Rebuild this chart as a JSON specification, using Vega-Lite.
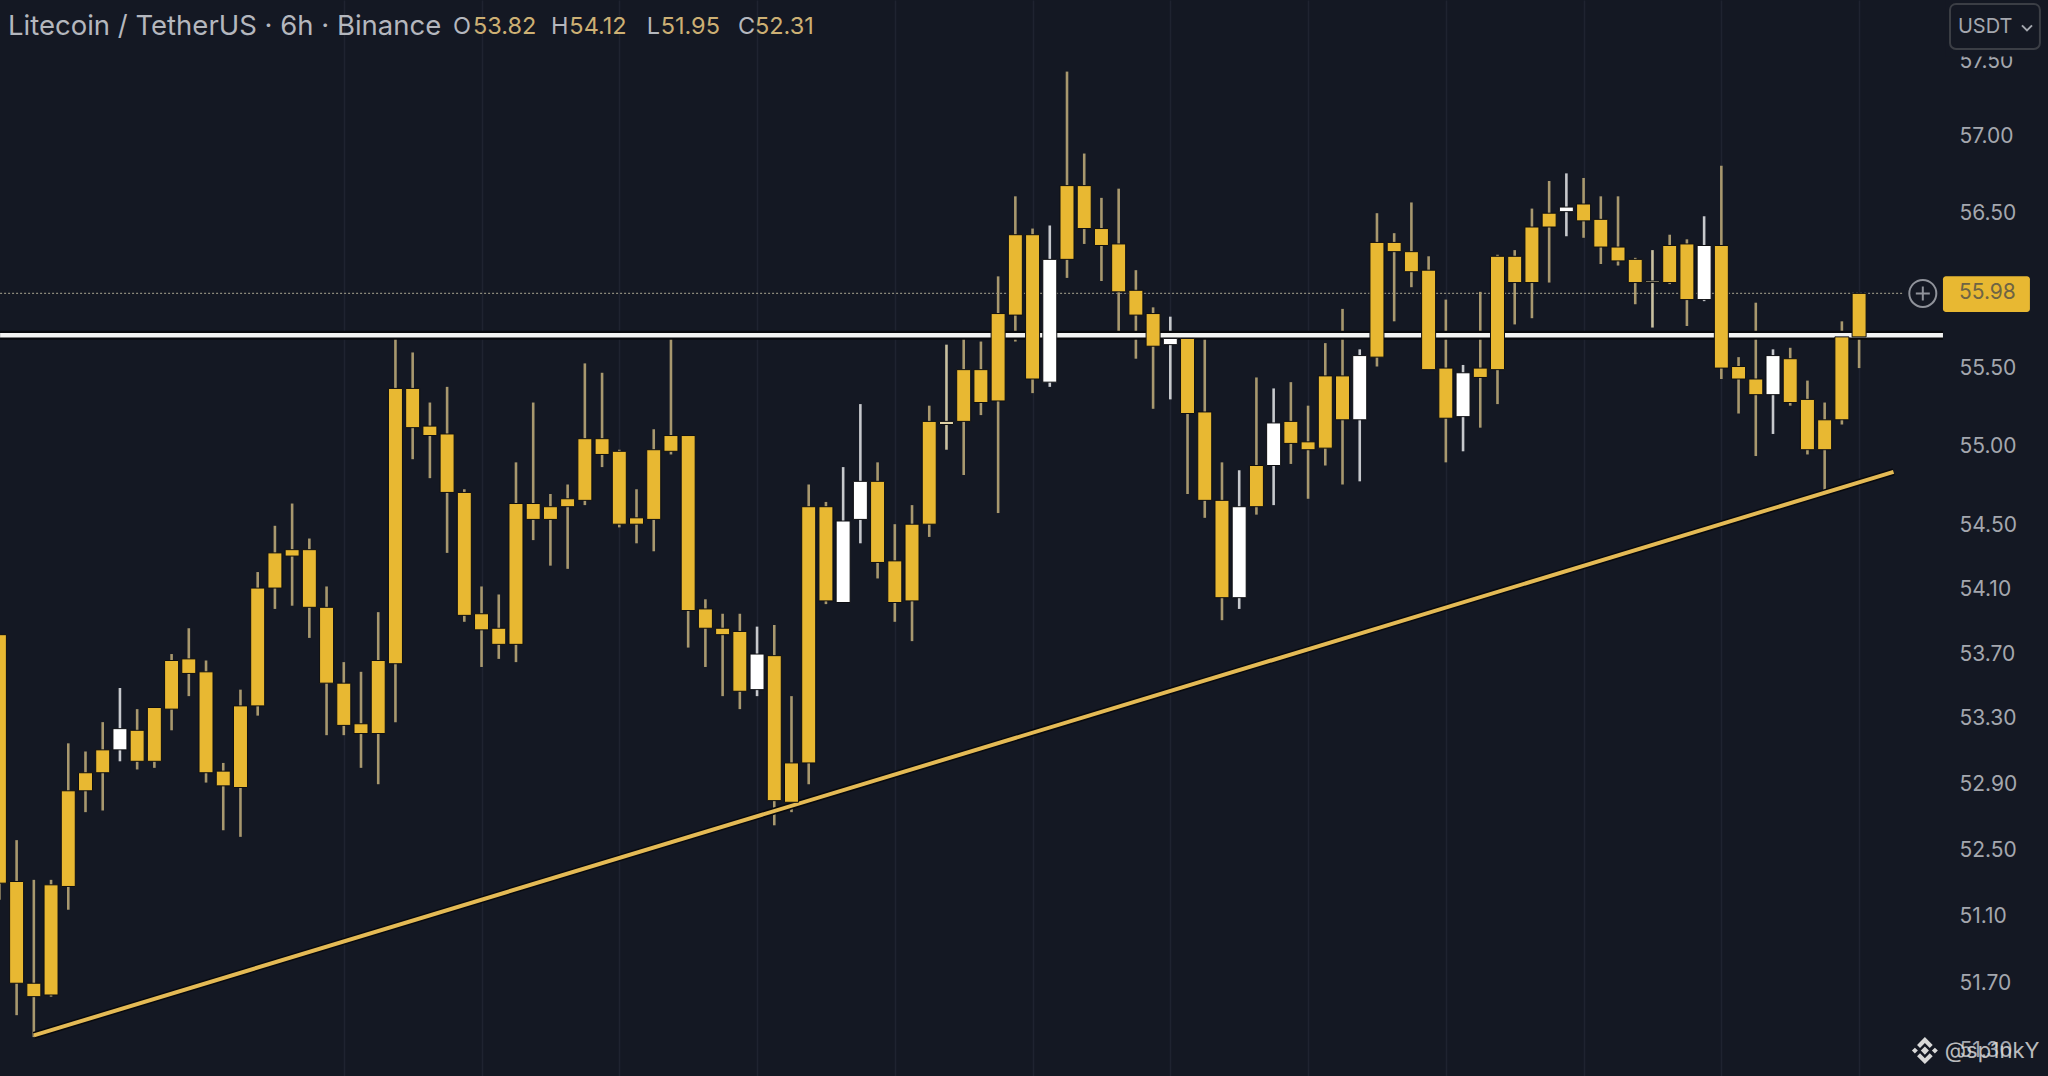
{"$schema":"https://vega.github.io/schema/vega-lite/v6.json","width":2048,"height":1076,"padding":0,"autosize":"none","background":"#141823","config":{"view":{"stroke":null},"font":"Inter","scale":{"continuousPadding":0}},
"resolve":{"axis":{"x":"independent","y":"independent"}},
"datasets":{
"candles":[
{"i":0,"open":52.30,"high":53.82,"low":52.2,"close":53.82,"tone":"up"},
{"i":1,"open":51.70,"high":52.56,"low":51.51,"close":52.31,"tone":"up"},
{"i":2,"open":51.62,"high":52.32,"low":51.38,"close":51.70,"tone":"up"},
{"i":3,"open":51.63,"high":52.32,"low":51.62,"close":52.29,"tone":"up"},
{"i":4,"open":52.28,"high":53.15,"low":52.14,"close":52.86,"tone":"up"},
{"i":5,"open":52.86,"high":53.10,"low":52.73,"close":52.97,"tone":"up"},
{"i":6,"open":52.97,"high":53.28,"low":52.74,"close":53.11,"tone":"up"},
{"i":7,"open":53.24,"high":53.49,"low":53.04,"close":53.11,"tone":"down"},
{"i":8,"open":53.04,"high":53.36,"low":52.99,"close":53.23,"tone":"up"},
{"i":9,"open":53.04,"high":53.37,"low":53.00,"close":53.37,"tone":"up"},
{"i":10,"open":53.36,"high":53.70,"low":53.23,"close":53.66,"tone":"up"},
{"i":11,"open":53.58,"high":53.86,"low":53.44,"close":53.67,"tone":"up"},
{"i":12,"open":52.97,"high":53.66,"low":52.91,"close":53.59,"tone":"up"},
{"i":13,"open":52.89,"high":53.03,"low":52.62,"close":52.98,"tone":"up"},
{"i":14,"open":52.88,"high":53.48,"low":52.58,"close":53.38,"tone":"up"},
{"i":15,"open":53.38,"high":54.21,"low":53.32,"close":54.11,"tone":"up"},
{"i":16,"open":54.11,"high":54.50,"low":53.98,"close":54.33,"tone":"up"},
{"i":17,"open":54.31,"high":54.64,"low":54.00,"close":54.35,"tone":"up"},
{"i":18,"open":53.99,"high":54.42,"low":53.80,"close":54.35,"tone":"up"},
{"i":19,"open":53.52,"high":54.12,"low":53.20,"close":53.99,"tone":"up"},
{"i":20,"open":53.26,"high":53.65,"low":53.20,"close":53.52,"tone":"up"},
{"i":21,"open":53.21,"high":53.59,"low":53.00,"close":53.27,"tone":"up"},
{"i":22,"open":53.21,"high":53.96,"low":52.90,"close":53.66,"tone":"up"},
{"i":23,"open":53.64,"high":55.72,"low":53.28,"close":55.37,"tone":"up"},
{"i":24,"open":55.12,"high":55.60,"low":54.92,"close":55.37,"tone":"up"},
{"i":25,"open":55.07,"high":55.28,"low":54.80,"close":55.13,"tone":"up"},
{"i":26,"open":54.71,"high":55.38,"low":54.33,"close":55.08,"tone":"up"},
{"i":27,"open":53.94,"high":54.73,"low":53.90,"close":54.71,"tone":"up"},
{"i":28,"open":53.85,"high":54.12,"low":53.62,"close":53.95,"tone":"up"},
{"i":29,"open":53.76,"high":54.07,"low":53.67,"close":53.86,"tone":"up"},
{"i":30,"open":53.76,"high":54.90,"low":53.65,"close":54.64,"tone":"up"},
{"i":31,"open":54.54,"high":55.28,"low":54.41,"close":54.64,"tone":"up"},
{"i":32,"open":54.54,"high":54.70,"low":54.25,"close":54.62,"tone":"up"},
{"i":33,"open":54.62,"high":54.76,"low":54.23,"close":54.67,"tone":"up"},
{"i":34,"open":54.66,"high":55.53,"low":54.63,"close":55.05,"tone":"up"},
{"i":35,"open":54.95,"high":55.47,"low":54.87,"close":55.05,"tone":"up"},
{"i":36,"open":54.51,"high":54.98,"low":54.49,"close":54.97,"tone":"up"},
{"i":37,"open":54.51,"high":54.73,"low":54.39,"close":54.55,"tone":"up"},
{"i":38,"open":54.54,"high":55.11,"low":54.34,"close":54.98,"tone":"up"},
{"i":39,"open":54.97,"high":55.71,"low":54.95,"close":55.07,"tone":"up"},
{"i":40,"open":53.97,"high":55.07,"low":53.74,"close":55.07,"tone":"up"},
{"i":41,"open":53.86,"high":54.04,"low":53.62,"close":53.98,"tone":"up"},
{"i":42,"open":53.82,"high":53.95,"low":53.44,"close":53.86,"tone":"up"},
{"i":43,"open":53.47,"high":53.95,"low":53.36,"close":53.84,"tone":"up"},
{"i":44,"open":53.70,"high":53.87,"low":53.44,"close":53.48,"tone":"down"},
{"i":45,"open":52.80,"high":53.88,"low":52.65,"close":53.69,"tone":"up"},
{"i":46,"open":52.79,"high":53.44,"low":52.73,"close":53.03,"tone":"up"},
{"i":47,"open":53.03,"high":54.76,"low":52.90,"close":54.62,"tone":"up"},
{"i":48,"open":54.03,"high":54.65,"low":54.01,"close":54.62,"tone":"up"},
{"i":49,"open":54.53,"high":54.87,"low":54.02,"close":54.02,"tone":"down"},
{"i":50,"open":54.78,"high":55.27,"low":54.39,"close":54.54,"tone":"down"},
{"i":51,"open":54.27,"high":54.90,"low":54.17,"close":54.78,"tone":"up"},
{"i":52,"open":54.02,"high":54.51,"low":53.90,"close":54.28,"tone":"up"},
{"i":53,"open":54.03,"high":54.63,"low":53.78,"close":54.51,"tone":"up"},
{"i":54,"open":54.51,"high":55.26,"low":54.43,"close":55.16,"tone":"up"},
{"i":55,"open":55.14,"high":55.65,"low":54.98,"close":55.16,"tone":"doji"},
{"i":56,"open":55.16,"high":55.71,"low":54.82,"close":55.49,"tone":"up"},
{"i":57,"open":55.28,"high":55.67,"low":55.20,"close":55.49,"tone":"up"},
{"i":58,"open":55.29,"high":56.09,"low":54.58,"close":55.85,"tone":"up"},
{"i":59,"open":55.84,"high":56.61,"low":55.67,"close":56.36,"tone":"up"},
{"i":60,"open":55.43,"high":56.40,"low":55.34,"close":56.36,"tone":"up"},
{"i":61,"open":56.20,"high":56.42,"low":55.38,"close":55.41,"tone":"down"},
{"i":62,"open":56.20,"high":57.43,"low":56.08,"close":56.68,"tone":"up"},
{"i":63,"open":56.40,"high":56.89,"low":56.30,"close":56.68,"tone":"up"},
{"i":64,"open":56.29,"high":56.60,"low":56.06,"close":56.40,"tone":"up"},
{"i":65,"open":55.99,"high":56.66,"low":55.71,"close":56.30,"tone":"up"},
{"i":66,"open":55.84,"high":56.13,"low":55.56,"close":56.00,"tone":"up"},
{"i":67,"open":55.64,"high":55.89,"low":55.24,"close":55.85,"tone":"up"},
{"i":68,"open":55.69,"high":55.83,"low":55.30,"close":55.65,"tone":"down"},
{"i":69,"open":55.21,"high":55.69,"low":54.70,"close":55.69,"tone":"up"},
{"i":70,"open":54.66,"high":55.69,"low":54.55,"close":55.22,"tone":"up"},
{"i":71,"open":54.05,"high":54.90,"low":53.91,"close":54.66,"tone":"up"},
{"i":72,"open":54.62,"high":54.85,"low":53.98,"close":54.05,"tone":"down"},
{"i":73,"open":54.62,"high":55.44,"low":54.57,"close":54.88,"tone":"up"},
{"i":74,"open":55.15,"high":55.37,"low":54.63,"close":54.88,"tone":"down"},
{"i":75,"open":55.02,"high":55.41,"low":54.89,"close":55.16,"tone":"up"},
{"i":76,"open":54.98,"high":55.26,"low":54.67,"close":55.03,"tone":"up"},
{"i":77,"open":54.99,"high":55.66,"low":54.88,"close":55.45,"tone":"up"},
{"i":78,"open":55.17,"high":55.88,"low":54.76,"close":55.45,"tone":"up"},
{"i":79,"open":55.58,"high":55.62,"low":54.78,"close":55.17,"tone":"down"},
{"i":80,"open":55.57,"high":56.50,"low":55.51,"close":56.31,"tone":"up"},
{"i":81,"open":56.25,"high":56.37,"low":55.80,"close":56.31,"tone":"up"},
{"i":82,"open":56.12,"high":56.57,"low":56.02,"close":56.25,"tone":"up"},
{"i":83,"open":55.49,"high":56.22,"low":55.49,"close":56.13,"tone":"up"},
{"i":84,"open":55.18,"high":55.94,"low":54.90,"close":55.50,"tone":"up"},
{"i":85,"open":55.47,"high":55.52,"low":54.97,"close":55.19,"tone":"down"},
{"i":86,"open":55.44,"high":55.99,"low":55.12,"close":55.50,"tone":"up"},
{"i":87,"open":55.49,"high":56.23,"low":55.27,"close":56.22,"tone":"up"},
{"i":88,"open":56.05,"high":56.26,"low":55.78,"close":56.22,"tone":"up"},
{"i":89,"open":56.05,"high":56.53,"low":55.82,"close":56.41,"tone":"up"},
{"i":90,"open":56.41,"high":56.71,"low":56.05,"close":56.50,"tone":"up"},
{"i":91,"open":56.54,"high":56.76,"low":56.35,"close":56.51,"tone":"down"},
{"i":92,"open":56.45,"high":56.73,"low":56.34,"close":56.56,"tone":"up"},
{"i":93,"open":56.28,"high":56.61,"low":56.17,"close":56.46,"tone":"up"},
{"i":94,"open":56.19,"high":56.61,"low":56.16,"close":56.28,"tone":"up"},
{"i":95,"open":56.05,"high":56.21,"low":55.91,"close":56.20,"tone":"up"},
{"i":96,"open":56.05,"high":56.26,"low":55.76,"close":56.06,"tone":"doji"},
{"i":97,"open":56.05,"high":56.36,"low":56.04,"close":56.29,"tone":"up"},
{"i":98,"open":55.94,"high":56.33,"low":55.77,"close":56.30,"tone":"up"},
{"i":99,"open":56.29,"high":56.48,"low":55.93,"close":55.94,"tone":"down"},
{"i":100,"open":55.50,"high":56.81,"low":55.43,"close":56.29,"tone":"up"},
{"i":101,"open":55.43,"high":55.57,"low":55.21,"close":55.51,"tone":"up"},
{"i":102,"open":55.33,"high":55.92,"low":54.94,"close":55.43,"tone":"up"},
{"i":103,"open":55.58,"high":55.62,"low":55.08,"close":55.33,"tone":"down"},
{"i":104,"open":55.28,"high":55.63,"low":55.26,"close":55.56,"tone":"up"},
{"i":105,"open":54.98,"high":55.42,"low":54.95,"close":55.30,"tone":"up"},
{"i":106,"open":54.98,"high":55.28,"low":54.71,"close":55.17,"tone":"up"},
{"i":107,"open":55.17,"high":55.80,"low":55.14,"close":55.70,"tone":"up"},
{"i":108,"open":55.70,"high":55.98,"low":55.50,"close":55.98,"tone":"up"}
],
"levels":[
{"name":"last","i":0.04,"price":55.98},{"name":"last","i":110.5,"price":55.98},
{"name":"resistance","i":0.04,"price":55.71},{"name":"resistance","i":112.87,"price":55.71},
{"name":"trend","i":2,"price":51.39},{"name":"trend","i":110,"price":54.84}
],
"texts":[
{"group":"title","i":0.5,"price":57.726,"label":"Litecoin / TetherUS · 6h · Binance"},
{"group":"key","i":26.34,"price":57.726,"label":"O"},
{"group":"val","i":27.5,"price":57.726,"label":"53.82"},
{"group":"key","i":32.03,"price":57.726,"label":"H"},
{"group":"val","i":33.1,"price":57.726,"label":"54.12"},
{"group":"key","i":37.6,"price":57.726,"label":"L"},
{"group":"val","i":38.4,"price":57.726,"label":"51.95"},
{"group":"key","i":42.89,"price":57.726,"label":"C"},
{"group":"val","i":43.88,"price":57.726,"label":"52.31"},
{"group":"unit","i":113.74,"price":57.726,"label":"USDT"},
{"group":"last","i":113.8,"price":55.98,"label":"55.98"},
{"group":"mark","i":112.98,"price":51.30,"label":"@sp1nkY"}
]
},
"layer":[
{"data":{"name":"levels"},"transform":[{"filter":"datum.name==='last'"}],"mark":{"type":"line","stroke":"#8d8a7c","strokeWidth":1.2,"strokeDash":[2,2],"clip":true},
"encoding":{"x":{"field":"i","type":"quantitative","title":null,"scale":{"domain":[0.035,118.97],"nice":false,"zero":false},"axis":{"orient":"bottom","values":[20,28,36,44,52,60,68,76,84,92,100,108],"grid":true,"gridColor":"#1f2330","gridWidth":1.5,"labels":false,"ticks":false,"domain":false,"title":null}},
"y":{"field":"price","type":"quantitative","title":null,"scale":{"type":"log","domain":[51.15,57.906],"nice":false,"zero":false},"axis":{"orient":"right","offset":-89,"values":[57.5,57,56.5,55.5,55,54.5,54.1,53.7,53.3,52.9,52.5,52.1,51.7,51.3],"labelExpr":"datum.value==52.1?'51.10':format(datum.value,'.2f')","labelAlign":"left","labelPadding":0,"labelFontSize":21,"labelFont":"Inter","labelColor":"#a4a7ae","labelOverlap":false,"labelBound":false,"labelFlush":false,"grid":false,"ticks":false,"domain":false,"title":null}}}},
{"data":{"name":"candles"},"mark":{"type":"rule","strokeWidth":2.6,"clip":true},
"encoding":{"x":{"field":"i","type":"quantitative","scale":{"domain":[0.035,118.97],"nice":false,"zero":false},"axis":null},
"y":{"field":"low","type":"quantitative","scale":{"type":"log","domain":[51.15,57.906],"nice":false,"zero":false},"axis":null},"y2":{"field":"high"},
"color":{"field":"tone","type":"nominal","legend":null,"scale":{"domain":["up","down","doji"],"range":["#a8986e","#c6c8cc","#c9c0a0"]}}}},
{"data":{"name":"levels"},"transform":[{"filter":"datum.name==='resistance'"}],"mark":{"type":"line","stroke":"#08090c","strokeWidth":9,"clip":true},
"encoding":{"x":{"field":"i","type":"quantitative","scale":{"domain":[0.035,118.97],"nice":false,"zero":false},"axis":null},"y":{"field":"price","type":"quantitative","scale":{"type":"log","domain":[51.15,57.906],"nice":false,"zero":false},"axis":null}}},
{"data":{"name":"levels"},"transform":[{"filter":"datum.name==='resistance'"}],"mark":{"type":"line","stroke":"#f2f2f0","strokeWidth":4.5,"clip":true},
"encoding":{"x":{"field":"i","type":"quantitative","scale":{"domain":[0.035,118.97],"nice":false,"zero":false},"axis":null},"y":{"field":"price","type":"quantitative","scale":{"type":"log","domain":[51.15,57.906],"nice":false,"zero":false},"axis":null}}},
{"data":{"name":"levels"},"transform":[{"filter":"datum.name==='trend'"}],"mark":{"type":"line","stroke":"#08090c","strokeWidth":7,"clip":true},
"encoding":{"x":{"field":"i","type":"quantitative","scale":{"domain":[0.035,118.97],"nice":false,"zero":false},"axis":null},"y":{"field":"price","type":"quantitative","scale":{"type":"log","domain":[51.15,57.906],"nice":false,"zero":false},"axis":null}}},
{"data":{"name":"levels"},"transform":[{"filter":"datum.name==='trend'"}],"mark":{"type":"line","stroke":"#e4ba55","strokeWidth":4,"clip":true},
"encoding":{"x":{"field":"i","type":"quantitative","scale":{"domain":[0.035,118.97],"nice":false,"zero":false},"axis":null},"y":{"field":"price","type":"quantitative","scale":{"type":"log","domain":[51.15,57.906],"nice":false,"zero":false},"axis":null}}},
{"data":{"name":"candles"},"mark":{"type":"bar","size":14,"orient":"vertical","stroke":"#0d0e12","strokeWidth":1,"clip":true},
"encoding":{"x":{"field":"i","type":"quantitative","scale":{"domain":[0.035,118.97],"nice":false,"zero":false},"axis":null},
"y":{"field":"open","type":"quantitative","scale":{"type":"log","domain":[51.15,57.906],"nice":false,"zero":false},"axis":null},"y2":{"field":"close"},
"fill":{"field":"tone","type":"nominal","legend":null,"scale":{"domain":["up","down","doji"],"range":["#e8b832","#ffffff","#e0d2a6"]}}}},
{"data":{"values":[{"i":113,"i2":118.97,"price":57.906,"price2":57.53}]},"mark":{"type":"rect","fill":"#141823"},
"encoding":{"x":{"field":"i","type":"quantitative","scale":{"domain":[0.035,118.97],"nice":false,"zero":false},"axis":null},"x2":{"field":"i2"},"y":{"field":"price","type":"quantitative","scale":{"type":"log","domain":[51.15,57.906],"nice":false,"zero":false},"axis":null},"y2":{"field":"price2"}}},
{"data":{"values":[{"i":113.28,"i2":118.5,"price":57.88,"price2":57.58}]},"mark":{"type":"rect","fill":"#141823","stroke":"#3b3e45","strokeWidth":2,"cornerRadius":6},
"encoding":{"x":{"field":"i","type":"quantitative","scale":{"domain":[0.035,118.97],"nice":false,"zero":false},"axis":null},"x2":{"field":"i2"},"y":{"field":"price","type":"quantitative","scale":{"type":"log","domain":[51.15,57.906],"nice":false,"zero":false},"axis":null},"y2":{"field":"price2"}}},
{"data":{"values":[{"i":112.87,"i2":117.92,"price":56.09,"price2":55.86}]},"mark":{"type":"rect","fill":"#e8b832","cornerRadius":3},
"encoding":{"x":{"field":"i","type":"quantitative","scale":{"domain":[0.035,118.97],"nice":false,"zero":false},"axis":null},"x2":{"field":"i2"},"y":{"field":"price","type":"quantitative","scale":{"type":"log","domain":[51.15,57.906],"nice":false,"zero":false},"axis":null},"y2":{"field":"price2"}}},
{"data":{"values":[{"i":111.7,"price":55.98}]},"mark":{"type":"point","shape":"circle","size":729,"filled":false,"stroke":"#8f929a","strokeWidth":2,"opacity":1},
"encoding":{"x":{"field":"i","type":"quantitative","scale":{"domain":[0.035,118.97],"nice":false,"zero":false},"axis":null},"y":{"field":"price","type":"quantitative","scale":{"type":"log","domain":[51.15,57.906],"nice":false,"zero":false},"axis":null}}},
{"data":{"values":[{"i":111.7,"price":55.98}]},"mark":{"type":"point","shape":"M-1,0L1,0M0,-1L0,1","size":196,"filled":false,"stroke":"#8f929a","strokeWidth":2,"opacity":1},
"encoding":{"x":{"field":"i","type":"quantitative","scale":{"domain":[0.035,118.97],"nice":false,"zero":false},"axis":null},"y":{"field":"price","type":"quantitative","scale":{"type":"log","domain":[51.15,57.906],"nice":false,"zero":false},"axis":null}}},
{"data":{"values":[{"i":117.75,"price":57.72}]},"mark":{"type":"point","shape":"M-1,-0.5L0,0.5L1,-0.5","size":100,"filled":false,"stroke":"#a4a7ae","strokeWidth":2,"opacity":1},
"encoding":{"x":{"field":"i","type":"quantitative","scale":{"domain":[0.035,118.97],"nice":false,"zero":false},"axis":null},"y":{"field":"price","type":"quantitative","scale":{"type":"log","domain":[51.15,57.906],"nice":false,"zero":false},"axis":null}}},
{"data":{"values":[{"i":111.82,"price":51.30}]},"mark":{"type":"point","shape":"M0,-0.3L0.3,0L0,0.3L-0.3,0ZM-0.74,-0.22L-0.52,0L-0.74,0.22L-0.96,0ZM0.74,-0.22L0.96,0L0.74,0.22L0.52,0ZM0,-1L0.58,-0.42L0.36,-0.2L0,-0.56L-0.36,-0.2L-0.58,-0.42ZM0,1L0.58,0.42L0.36,0.2L0,0.56L-0.36,0.2L-0.58,0.42Z","size":729,"filled":true,"fill":"#d8d8d8","strokeWidth":0,"opacity":1},
"encoding":{"x":{"field":"i","type":"quantitative","scale":{"domain":[0.035,118.97],"nice":false,"zero":false},"axis":null},"y":{"field":"price","type":"quantitative","scale":{"type":"log","domain":[51.15,57.906],"nice":false,"zero":false},"axis":null}}},
{"data":{"name":"texts"},"transform":[{"filter":"datum.group==='title'"}],"mark":{"type":"text","align":"left","baseline":"middle","font":"Inter","fontSize":27.5,"fill":"#b4b7be"},
"encoding":{"x":{"field":"i","type":"quantitative","scale":{"domain":[0.035,118.97],"nice":false,"zero":false},"axis":null},"y":{"field":"price","type":"quantitative","scale":{"type":"log","domain":[51.15,57.906],"nice":false,"zero":false},"axis":null},"text":{"field":"label"}}},
{"data":{"name":"texts"},"transform":[{"filter":"datum.group==='key'"}],"mark":{"type":"text","align":"left","baseline":"middle","font":"Inter","fontSize":23.5,"fill":"#b4b7be"},
"encoding":{"x":{"field":"i","type":"quantitative","scale":{"domain":[0.035,118.97],"nice":false,"zero":false},"axis":null},"y":{"field":"price","type":"quantitative","scale":{"type":"log","domain":[51.15,57.906],"nice":false,"zero":false},"axis":null},"text":{"field":"label"}}},
{"data":{"name":"texts"},"transform":[{"filter":"datum.group==='val'"}],"mark":{"type":"text","align":"left","baseline":"middle","font":"Inter","fontSize":23.5,"fill":"#cdb074"},
"encoding":{"x":{"field":"i","type":"quantitative","scale":{"domain":[0.035,118.97],"nice":false,"zero":false},"axis":null},"y":{"field":"price","type":"quantitative","scale":{"type":"log","domain":[51.15,57.906],"nice":false,"zero":false},"axis":null},"text":{"field":"label"}}},
{"data":{"name":"texts"},"transform":[{"filter":"datum.group==='unit'"}],"mark":{"type":"text","align":"left","baseline":"middle","font":"Inter","fontSize":20,"fill":"#a4a7ae"},
"encoding":{"x":{"field":"i","type":"quantitative","scale":{"domain":[0.035,118.97],"nice":false,"zero":false},"axis":null},"y":{"field":"price","type":"quantitative","scale":{"type":"log","domain":[51.15,57.906],"nice":false,"zero":false},"axis":null},"text":{"field":"label"}}},
{"data":{"name":"texts"},"transform":[{"filter":"datum.group==='last'"}],"mark":{"type":"text","align":"left","baseline":"middle","font":"Inter","fontSize":21,"fill":"#6e6444"},
"encoding":{"x":{"field":"i","type":"quantitative","scale":{"domain":[0.035,118.97],"nice":false,"zero":false},"axis":null},"y":{"field":"price","type":"quantitative","scale":{"type":"log","domain":[51.15,57.906],"nice":false,"zero":false},"axis":null},"text":{"field":"label"}}},
{"data":{"name":"texts"},"transform":[{"filter":"datum.group==='mark'"}],"mark":{"type":"text","align":"left","baseline":"middle","font":"Inter","fontSize":22,"fill":"#d8d8d8","opacity":0.85},
"encoding":{"x":{"field":"i","type":"quantitative","scale":{"domain":[0.035,118.97],"nice":false,"zero":false},"axis":null},"y":{"field":"price","type":"quantitative","scale":{"type":"log","domain":[51.15,57.906],"nice":false,"zero":false},"axis":null},"text":{"field":"label"}}}
]}
